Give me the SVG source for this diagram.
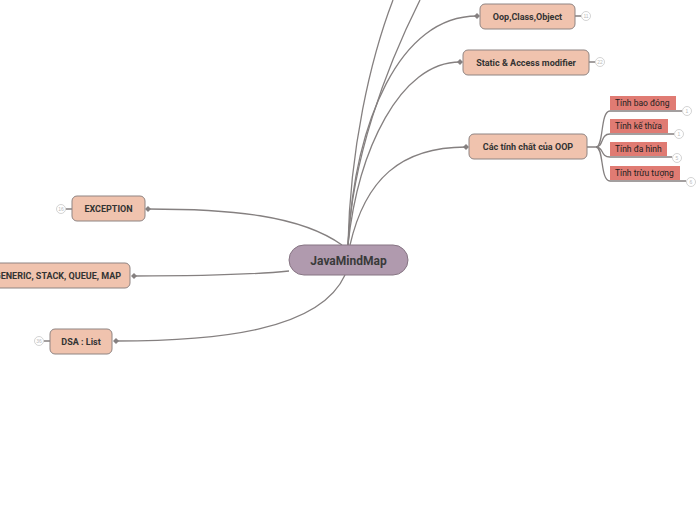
<svg xmlns="http://www.w3.org/2000/svg" width="696" height="520" viewBox="0 0 696 520">
<style>
.n{fill:#f0c3ae;stroke:#8f8482;stroke-width:1}
.t{font-family:Roboto,"Liberation Sans",sans-serif;font-weight:bold;font-size:9px;fill:#333;text-anchor:middle}
.s{fill:#e07b73}
.st{font-family:Roboto,"Liberation Sans",sans-serif;font-size:8.5px;fill:#222}
.c{fill:none;stroke:#858080;stroke-width:1.3}
.b{fill:#fff;stroke:#c8c8c8;stroke-width:0.8}
.bt{font-family:"Liberation Sans",sans-serif;font-size:5px;fill:#bbb;text-anchor:middle}
.d{fill:#858080}
</style>
<rect width="696" height="520" fill="#fff"/>
<g id="connectors">
<path class="c" d="M348,245 C350,150 370,60 393,0"/>
<path class="c" d="M348,245 C352,160 385,70 420,0"/>
<path class="c" d="M348,245 C355,120 400,16 477,16"/>
<path class="c" d="M348,245 C358,150 400,62 460,62"/>
<path class="c" d="M350,245 C365,180 400,147 466,147"/>
<path class="c" d="M342,245 C300,215 230,209 148,209"/>
<path class="c" d="M289,271 C240,276 180,276 134,276"/>
<path class="c" d="M345,275 C320,330 220,341 116,341"/>
<path class="d" d="M477,13 L480,16 L477,19 L474,16Z"/>
<path class="d" d="M460,59 L463,62 L460,65 L457,62Z"/>
<path class="d" d="M466,144 L469,147 L466,150 L463,147Z"/>
<path class="d" d="M148,206 L151,209 L148,212 L145,209Z"/>
<path class="d" d="M134,273 L137,276 L134,279 L131,276Z"/>
<path class="d" d="M116,338 L119,341 L116,344 L113,341Z"/>
<path class="c" d="M587,147 L596,147 C604,147 600,111 610,111 L682,111"/>
<path class="c" d="M596,147 C604,147 600,134 610,134 L674,134"/>
<path class="c" d="M596,147 C604,147 600,157 610,157 L672,157"/>
<path class="c" d="M596,147 C604,147 600,181 610,181 L686,181"/>
<path class="c" d="M575,16 L581,16 M589,62 L595,62 M72,209 L66,209 M50,341 L44,341"/>
</g>
<g id="center"><rect x="289" y="245" width="119" height="30" rx="15" fill="#b09aae" stroke="#867583"/><text x="348.5" y="264.5" class="t" style="font-size:12px;fill:#3a3a3a">JavaMindMap</text></g>
<g id="oop"><rect class="n" x="480" y="4" width="95" height="25" rx="5"/><text class="t" x="527.5" y="19.5">Oop,Class,Object</text><circle class="b" cx="586" cy="16" r="4.5"/><text class="bt" x="586" y="17.8">11</text></g>
<g id="static"><rect class="n" x="463" y="50" width="126" height="25" rx="5"/><text class="t" x="526" y="65.5">Static &amp; Access modifier</text><circle class="b" cx="600" cy="62" r="4.5"/><text class="bt" x="600" y="63.8">22</text></g>
<g id="oopprops"><rect class="n" x="469" y="134" width="118" height="25" rx="5"/><text class="t" x="528" y="149.5">Các tính chất của OOP</text></g>
<g id="s1"><rect class="s" x="610" y="96" width="66" height="14"/><text class="st" x="615" y="106">Tính bao đóng</text><circle class="b" cx="687" cy="111" r="4.5"/><text class="bt" x="687" y="112.8">1</text></g>
<g id="s2"><rect class="s" x="610" y="119" width="58" height="14"/><text class="st" x="615" y="129">Tính kế thừa</text><circle class="b" cx="679" cy="134" r="4.5"/><text class="bt" x="679" y="135.8">1</text></g>
<g id="s3"><rect class="s" x="610" y="142" width="57" height="14"/><text class="st" x="615" y="152">Tính đa hình</text><circle class="b" cx="677" cy="158" r="4.5"/><text class="bt" x="677" y="159.8">5</text></g>
<g id="s4"><rect class="s" x="610" y="166" width="70" height="14"/><text class="st" x="615" y="176">Tính trừu tượng</text><circle class="b" cx="691" cy="182" r="4.5"/><text class="bt" x="691" y="183.8">6</text></g>
<g id="exception"><rect class="n" x="72" y="196" width="73" height="25" rx="5"/><text class="t" x="108.5" y="211.5">EXCEPTION</text><circle class="b" cx="61" cy="209" r="4.5"/><text class="bt" x="61" y="210.8">16</text></g>
<g id="generic"><rect class="n" x="-20" y="263" width="150" height="25" rx="5"/><text class="t" x="121" y="278.5" style="text-anchor:end">GENERIC, STACK, QUEUE, MAP</text></g>
<g id="dsa"><rect class="n" x="50" y="329" width="62" height="25" rx="5"/><text class="t" x="81" y="344.5">DSA : List</text><circle class="b" cx="39" cy="341" r="4.5"/><text class="bt" x="39" y="342.8">36</text></g>
</svg>
